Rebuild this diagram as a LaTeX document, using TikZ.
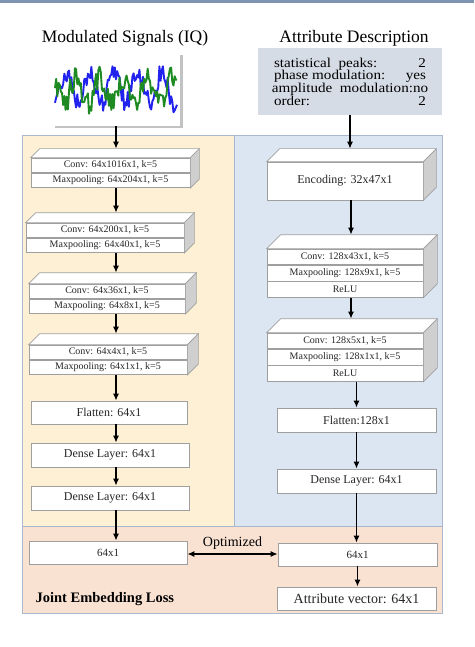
\documentclass[tikz,border=0pt]{standalone}
\usepackage{fontspec}
\setmainfont{Liberation Serif}
\newfontfamily\widefont[FakeStretch=1.12]{Liberation Serif}
\usetikzlibrary{arrows.meta,positioning,shadows}

\definecolor{leftpanel}{HTML}{FDF0D4}
\definecolor{rightpanel}{HTML}{DCE6F3}
\definecolor{losspanel}{HTML}{FAE2D3}
\definecolor{attrgray}{HTML}{D6DCE5}
\definecolor{panelline}{HTML}{A9B8CC}
\definecolor{topbar}{HTML}{7D93B0}
\definecolor{sigblue}{HTML}{2222EE}
\definecolor{siggreen}{HTML}{1E8A22}

% top face and side face of a layer block (top row, bottom row, depth)
\newcommand{\layerbox}[3]{
  \draw[draw=gray!75,line width=0.7pt,fill=white] (#1.north west) -- ++(#3,-#3)
    -- ([shift={(#3,-#3)}]#1.north east) -- (#1.north east) -- cycle;
  \draw[draw=gray!75,line width=0.7pt,fill=gray!38] (#1.north east) -- ++(#3,-#3)
    -- ([shift={(#3,-#3)}]#2.south east) -- (#2.south east) -- cycle;
}

\begin{document}
\begin{tikzpicture}[x=1pt,y=-1pt,>={Latex[length=7pt,width=6pt]},
  row/.style={draw=gray!75,fill=white,line width=0.7pt,inner sep=0pt,
    minimum width=#1,text=black!85},
  row/.default=158pt,
  thin row/.style={row=#1,minimum height=14.5pt,font=\fontsize{10}{10}\selectfont},
  thin row/.default=158pt,
  wide row/.style={row=156pt,minimum height=15.7pt,font=\fontsize{10}{10}\selectfont},
  big row/.style={row=#1,minimum height=24pt,font=\fontsize{12}{12}\selectfont},
  big row/.default=158pt,
  flow/.style={->,line width=1.3pt},
  title/.style={anchor=base,font=\fontsize{17.5}{17.5}\selectfont}]
  \useasboundingbox (0,0) rectangle (474,647);
  \fill[topbar] (0,0) rectangle (474,3);

  % panels
  \filldraw[fill=leftpanel,draw=panelline,line width=0.7pt] (22,135) rectangle (234,526);
  \filldraw[fill=rightpanel,draw=panelline,line width=0.7pt] (234,135) rectangle (442,526);
  \filldraw[fill=losspanel,draw=panelline,line width=0.7pt] (22,526) rectangle (442,613);

  % inputs
  \node[title] (sigtitle) at (125,42.5) {Modulated Signals (IQ)};
  \node[title] (attrtitle) at (354,42.5) {Attribute Description};
  \node[fill=white,minimum width=128pt,minimum height=73pt,inner sep=0pt,
    drop shadow={shadow xshift=2.5pt,shadow yshift=-2.5pt,fill=gray!80,opacity=0.6}]
    (sig) at (116,89.5) {};
  \begin{scope}
    \clip (53,54) rectangle (179,125);
    \pgfmathsetseed{11}
    \draw[sigblue,line width=1.9pt,line join=round]
      plot[domain=55:177,samples=105] (\x,{88+15*sin(15*\x)+10*rand});
    \draw[siggreen,line width=1.9pt,line join=round]
      plot[domain=55:177,samples=105] (\x,{91-13*sin(15*\x+30)+12*rand});
  \end{scope}
  \node[fill=attrgray,minimum width=184pt,minimum height=67pt,inner sep=0pt,
    align=left,font=\widefont\fontsize{13.5}{12.7}\selectfont] (attr) at (350,81.5)
    {\makebox[152pt]{statistical\ \ peaks:\hfill 2}\\
     \makebox[152pt]{phase modulation:\hfill yes}\\
     \makebox[152pt]{amplitude\ \ modulation:\hfill no}\\
     \makebox[152pt]{order:\hfill 2}};

  % signal branch
  \node[thin row=159pt] (b1) at (110.5,165.25) {Conv: 64x1016x1, k=5};
  \node[thin row=159pt,below=0pt of b1] (b1m) {Maxpooling: 64x204x1, k=5};
  \layerbox{b1}{b1m}{9}
  \node[thin row] (b2) at (105,230.25) {Conv: 64x200x1, k=5};
  \node[thin row,below=0pt of b2] (b2m) {Maxpooling: 64x40x1, k=5};
  \layerbox{b2}{b2m}{10}
  \node[thin row=156pt] (b3) at (107,291.25) {Conv: 64x36x1, k=5};
  \node[thin row=156pt,below=0pt of b3] (b3m) {Maxpooling: 64x8x1, k=5};
  \layerbox{b3}{b3m}{11}
  \node[thin row] (b4) at (108,352.25) {Conv: 64x4x1, k=5};
  \node[thin row,below=0pt of b4] (b4m) {Maxpooling: 64x1x1, k=5};
  \layerbox{b4}{b4m}{11}
  \node[big row=156pt,minimum height=23pt] (fl) at (109,412.5) {Flatten: 64x1};
  \node[big row] (d1) at (110,455) {Dense Layer: 64x1};
  \node[big row] (d2) at (110,498) {Dense Layer: 64x1};

  % attribute branch
  \node[row=156pt,minimum height=38pt,font=\fontsize{12}{12}\selectfont] (enc) at (345,181) {Encoding: 32x47x1};
  \layerbox{enc}{enc}{13}
  \node[wide row] (c2) at (345,256.85) {Conv: 128x43x1, k=5};
  \node[wide row,below=0pt of c2] (c2m) {Maxpooling: 128x9x1, k=5};
  \node[wide row,below=0pt of c2m] (c2r) {ReLU};
  \layerbox{c2}{c2r}{14}
  \node[wide row] (c3) at (345,340.85) {Conv: 128x5x1, k=5};
  \node[wide row,below=0pt of c3] (c3m) {Maxpooling: 128x1x1, k=5};
  \node[wide row,below=0pt of c3m] (c3r) {ReLU};
  \layerbox{c3}{c3r}{14}
  \node[big row=159pt] (fr) at (356.5,420) {Flatten:128x1};
  \node[big row=159pt] (dr) at (356.5,481) {Dense Layer: 64x1};

  % joint embedding
  \node[row,minimum height=23pt,font=\fontsize{11}{11}\selectfont] (e1) at (108,552.5) {64x1};
  \node[row=159pt,minimum height=23pt,font=\fontsize{11}{11}\selectfont] (e2) at (357.5,554.5) {64x1};
  \node[row=159pt,minimum height=23pt,font=\fontsize{14}{14}\selectfont] (av) at (356.5,598.5) {Attribute vector: 64x1};
  \node[anchor=base west,font=\bfseries\fontsize{14.5}{14.5}\selectfont] (jel) at (32,602) {Joint Embedding Loss};

  % connectors
  \draw[flow,shorten >=9pt] (sig.south) -- (b1.north -| sig.south);
  \draw[flow,shorten >=10pt] (b1m.south -| sig.south) -- (b2.north -| sig.south);
  \draw[flow,shorten >=11pt] (b2m.south -| sig.south) -- (b3.north -| sig.south);
  \draw[flow,shorten >=11pt] (b3m.south -| sig.south) -- (b4.north -| sig.south);
  \draw[flow] (b4m.south -| sig.south) -- (fl.north -| sig.south);
  \draw[flow] (fl.south -| sig.south) -- (d1.north -| sig.south);
  \draw[flow] (d1.south -| sig.south) -- (d2.north -| sig.south);
  \draw[flow] (d2.south -| sig.south) -- (e1.north -| sig.south);
  \draw[flow,shorten >=13pt] (attr.south) -- (enc.north -| attr.south);
  \draw[flow,shorten >=14pt] ([xshift=6pt]enc.south) -- ([xshift=6pt]c2.north);
  \draw[flow,shorten >=14pt] ([xshift=6pt]c2r.south) -- ([xshift=6pt]c3.north);
  \draw[flow] (c3r.south -| fr.north) -- (fr.north);
  \draw[flow] (fr.south) -- (dr.north);
  \draw[flow] (dr.south) -- (dr.south |- e2.north);
  \draw[flow] (e2.south) -- (e2.south |- av.north);
  \draw[flow,<->] ([yshift=-1.5pt]e1.east) -- ([yshift=-1.5pt]e1.east -| e2.west)
    node[midway,above=1pt,font=\fontsize{14}{14}\selectfont] (opt) {Optimized};
\end{tikzpicture}
\end{document}
